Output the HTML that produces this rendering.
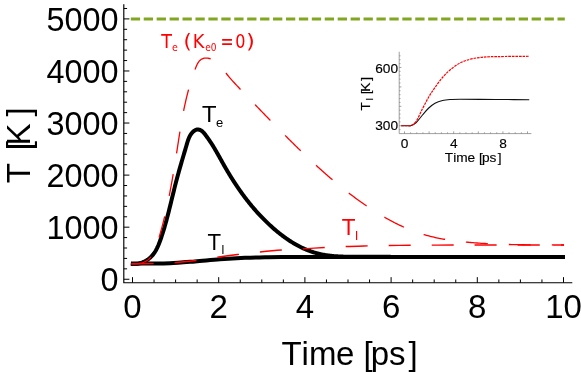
<!DOCTYPE html>
<html><head><meta charset="utf-8"><title>Plot</title>
<style>html,body{margin:0;padding:0;background:#fff}svg{display:block}</style></head>
<body>
<svg width="581" height="372" viewBox="0 0 581 372">
<rect width="581" height="372" fill="#fff"/>
<g stroke="#000" stroke-width="1.15" fill="none">
<path d="M123.80 4.3 V282.75 H572.3"/>
</g><g stroke="#000" stroke-width="1.0" fill="none">
<path d="M123.80 279.25 h5.6"/>
<path d="M123.80 268.84 h3.3"/>
<path d="M123.80 258.42 h3.3"/>
<path d="M123.80 248.01 h3.3"/>
<path d="M123.80 237.59 h3.3"/>
<path d="M123.80 227.18 h5.6"/>
<path d="M123.80 216.77 h3.3"/>
<path d="M123.80 206.35 h3.3"/>
<path d="M123.80 195.94 h3.3"/>
<path d="M123.80 185.52 h3.3"/>
<path d="M123.80 175.11 h5.6"/>
<path d="M123.80 164.70 h3.3"/>
<path d="M123.80 154.28 h3.3"/>
<path d="M123.80 143.87 h3.3"/>
<path d="M123.80 133.45 h3.3"/>
<path d="M123.80 123.04 h5.6"/>
<path d="M123.80 112.63 h3.3"/>
<path d="M123.80 102.21 h3.3"/>
<path d="M123.80 91.80 h3.3"/>
<path d="M123.80 81.38 h3.3"/>
<path d="M123.80 70.97 h5.6"/>
<path d="M123.80 60.56 h3.3"/>
<path d="M123.80 50.14 h3.3"/>
<path d="M123.80 39.73 h3.3"/>
<path d="M123.80 29.31 h3.3"/>
<path d="M123.80 18.90 h5.6"/>
<path d="M123.80 8.49 h3.3"/>
<path d="M132.50 282.75 v-5.6"/>
<path d="M154.05 282.75 v-3.3"/>
<path d="M175.60 282.75 v-3.3"/>
<path d="M197.15 282.75 v-3.3"/>
<path d="M218.70 282.75 v-5.6"/>
<path d="M240.25 282.75 v-3.3"/>
<path d="M261.80 282.75 v-3.3"/>
<path d="M283.35 282.75 v-3.3"/>
<path d="M304.90 282.75 v-5.6"/>
<path d="M326.45 282.75 v-3.3"/>
<path d="M348.00 282.75 v-3.3"/>
<path d="M369.55 282.75 v-3.3"/>
<path d="M391.10 282.75 v-5.6"/>
<path d="M412.65 282.75 v-3.3"/>
<path d="M434.20 282.75 v-3.3"/>
<path d="M455.75 282.75 v-3.3"/>
<path d="M477.30 282.75 v-5.6"/>
<path d="M498.85 282.75 v-3.3"/>
<path d="M520.40 282.75 v-3.3"/>
<path d="M541.95 282.75 v-3.3"/>
<path d="M563.50 282.75 v-5.6"/>
</g>
<path d="M130.8 19 H564.8" stroke="#80a71f" stroke-width="2.8" stroke-dasharray="9.3 3.63" fill="none"/>
<path d="M130.84 263.54 L131.94 263.70 L133.03 263.80 L134.12 263.85 L135.20 263.83 L136.28 263.77 L137.34 263.65 L138.40 263.49 L139.44 263.27 L140.47 263.01 L141.48 262.70 L142.47 262.34 L143.45 261.95 L144.41 261.51 L145.34 261.03 L146.26 260.51 L147.15 259.95 L148.01 259.36 L148.85 258.74 L149.65 258.08 L150.43 257.39 L151.18 256.67 L151.89 255.93 L152.58 255.15 L153.23 254.36 L153.85 253.53 L154.44 252.69 L155.01 251.82 L155.55 250.94 L156.07 250.03 L156.56 249.11 L157.04 248.18 L157.50 247.23 L157.93 246.26 L158.36 245.29 L158.77 244.30 L159.16 243.31 L159.54 242.31 L159.92 241.30 L160.28 240.29 L160.64 239.28 L160.99 238.26 L161.33 237.25 L161.67 236.23 L162.01 235.21 L162.34 234.19 L162.66 233.17 L162.99 232.15 L163.31 231.13 L163.62 230.11 L163.93 229.09 L164.23 228.07 L164.54 227.05 L164.84 226.02 L165.13 225.00 L165.42 223.97 L165.71 222.95 L166.00 221.93 L166.28 220.90 L166.56 219.87 L166.83 218.85 L167.11 217.82 L167.38 216.80 L167.65 215.77 L167.92 214.74 L168.18 213.72 L168.44 212.69 L168.70 211.66 L168.96 210.64 L169.22 209.61 L169.48 208.58 L169.73 207.56 L169.99 206.53 L170.24 205.50 L170.49 204.48 L170.74 203.45 L170.99 202.43 L171.24 201.40 L171.49 200.37 L171.74 199.35 L171.99 198.32 L172.23 197.30 L172.48 196.28 L172.73 195.25 L172.98 194.23 L173.23 193.21 L173.48 192.19 L173.73 191.17 L173.98 190.15 L174.23 189.13 L174.48 188.11 L174.74 187.09 L174.99 186.07 L175.25 185.05 L175.51 184.04 L175.77 183.02 L176.03 182.01 L176.30 180.99 L176.56 179.98 L176.83 178.97 L177.10 177.96 L177.37 176.95 L177.65 175.94 L177.92 174.93 L178.20 173.92 L178.48 172.91 L178.76 171.91 L179.04 170.90 L179.33 169.89 L179.61 168.88 L179.90 167.87 L180.19 166.87 L180.48 165.86 L180.77 164.85 L181.07 163.84 L181.36 162.83 L181.65 161.81 L181.95 160.80 L182.25 159.79 L182.55 158.77 L182.84 157.76 L183.14 156.74 L183.44 155.72 L183.74 154.70 L184.05 153.68 L184.35 152.65 L184.65 151.63 L184.95 150.60 L185.26 149.57 L185.56 148.54 L185.86 147.50 L186.17 146.47 L186.47 145.43 L186.77 144.38 L187.08 143.34 L187.39 142.30 L187.72 141.27 L188.06 140.24 L188.43 139.23 L188.82 138.24 L189.24 137.26 L189.71 136.31 L190.21 135.39 L190.76 134.50 L191.36 133.64 L192.02 132.82 L192.75 132.05 L193.53 131.32 L194.38 130.67 L195.28 130.12 L196.22 129.72 L197.19 129.50 L198.18 129.49 L199.17 129.67 L200.15 130.01 L201.08 130.50 L201.97 131.11 L202.79 131.82 L203.57 132.60 L204.31 133.44 L205.01 134.32 L205.68 135.21 L206.34 136.10 L206.98 136.98 L207.60 137.85 L208.21 138.71 L208.81 139.57 L209.40 140.43 L209.99 141.29 L210.56 142.15 L211.13 143.02 L211.69 143.89 L212.25 144.77 L212.80 145.66 L213.35 146.55 L213.89 147.44 L214.43 148.34 L214.97 149.25 L215.50 150.15 L216.03 151.07 L216.56 151.98 L217.08 152.90 L217.61 153.82 L218.13 154.75 L218.65 155.67 L219.17 156.60 L219.69 157.53 L220.21 158.46 L220.73 159.39 L221.24 160.32 L221.76 161.25 L222.28 162.18 L222.80 163.11 L223.33 164.04 L223.85 164.97 L224.38 165.89 L224.90 166.82 L225.43 167.74 L225.97 168.66 L226.50 169.58 L227.04 170.49 L227.58 171.41 L228.12 172.32 L228.67 173.23 L229.22 174.14 L229.77 175.04 L230.32 175.94 L230.88 176.84 L231.44 177.74 L232.00 178.64 L232.56 179.53 L233.13 180.42 L233.70 181.31 L234.27 182.20 L234.85 183.08 L235.43 183.96 L236.01 184.84 L236.60 185.72 L237.19 186.59 L237.78 187.46 L238.38 188.33 L238.97 189.19 L239.58 190.06 L240.18 190.92 L240.79 191.78 L241.40 192.63 L242.02 193.48 L242.64 194.33 L243.26 195.18 L243.88 196.02 L244.51 196.86 L245.15 197.70 L245.78 198.54 L246.42 199.37 L247.07 200.20 L247.72 201.03 L248.37 201.85 L249.02 202.67 L249.68 203.49 L250.34 204.31 L251.01 205.12 L251.68 205.93 L252.36 206.73 L253.04 207.54 L253.72 208.34 L254.41 209.13 L255.10 209.93 L255.79 210.72 L256.49 211.51 L257.19 212.29 L257.90 213.07 L258.61 213.85 L259.33 214.62 L260.05 215.39 L260.78 216.16 L261.51 216.93 L262.24 217.69 L262.98 218.44 L263.72 219.20 L264.47 219.95 L265.22 220.70 L265.98 221.44 L266.74 222.18 L267.51 222.92 L268.28 223.65 L269.05 224.38 L269.84 225.11 L270.62 225.83 L271.41 226.55 L272.21 227.26 L273.01 227.97 L273.81 228.68 L274.62 229.38 L275.43 230.07 L276.25 230.76 L277.07 231.45 L277.90 232.13 L278.73 232.80 L279.57 233.47 L280.41 234.13 L281.26 234.78 L282.11 235.43 L282.96 236.07 L283.82 236.71 L284.69 237.34 L285.55 237.96 L286.43 238.57 L287.30 239.18 L288.19 239.78 L289.07 240.37 L289.96 240.95 L290.86 241.53 L291.76 242.09 L292.66 242.65 L293.57 243.20 L294.48 243.74 L295.40 244.27 L296.32 244.79 L297.24 245.30 L298.17 245.80 L299.10 246.29 L300.04 246.77 L300.98 247.24 L301.93 247.70 L302.88 248.15 L303.83 248.59 L304.79 249.02 L305.76 249.44 L306.72 249.84 L307.69 250.24 L308.67 250.62 L309.65 250.99 L310.63 251.35 L311.62 251.69 L312.61 252.02 L313.60 252.34 L314.60 252.65 L315.60 252.94 L316.61 253.22 L317.62 253.49 L318.63 253.74 L319.65 253.98 L320.67 254.21 L321.70 254.42 L322.73 254.63 L323.76 254.82 L324.79 254.99 L325.83 255.16 L326.87 255.32 L327.92 255.46 L328.96 255.60 L330.01 255.72 L331.06 255.84 L332.11 255.95 L333.17 256.04 L334.22 256.13 L335.28 256.22 L336.34 256.29 L337.40 256.36 L338.46 256.42 L339.53 256.48 L340.59 256.52 L341.66 256.57 L342.72 256.61 L343.79 256.64 L344.85 256.67 L345.92 256.69 L346.99 256.72 L348.05 256.73 L349.12 256.75 L350.19 256.76 L351.25 256.77 L352.32 256.78 L353.38 256.79 L354.45 256.79 L355.51 256.80 L356.57 256.81 L357.63 256.81 L358.69 256.81 L359.75 256.82 L360.81 256.82 L361.86 256.83 L362.92 256.83 L363.97 256.83 L365.03 256.84 L366.08 256.84 L367.14 256.84 L368.19 256.84 L369.24 256.84 L370.30 256.85 L371.35 256.85 L372.40 256.85 L373.45 256.85 L374.50 256.85 L375.56 256.85 L376.61 256.85 L377.66 256.86 L378.71 256.86 L379.77 256.86 L380.82 256.86 L381.87 256.86 L382.93 256.86 L383.98 256.86 L385.03 256.86 L386.09 256.87 L387.15 256.87 L388.20 256.87 L389.26 256.87 L390.32 256.87 L391.38 256.88 L392.44 256.88 L393.50 256.88 L394.56 256.88 L395.62 256.89 L396.69 256.89 L397.75 256.89 L398.82 256.90 L399.89 256.90 L400.96 256.90 L402.03 256.90 L564.9 256.9" stroke="#000" stroke-width="4.0" fill="none" stroke-linejoin="round"/>
<path d="M130.90 263.70 C134.08 263.68 143.48 263.63 150.00 263.55 C156.52 263.47 162.50 263.56 170.00 263.20 C177.50 262.84 186.67 262.05 195.00 261.40 C203.33 260.75 211.67 259.90 220.00 259.30 C228.33 258.70 237.50 258.16 245.00 257.80 C252.50 257.44 258.33 257.29 265.00 257.15 C271.67 257.01 279.17 256.99 285.00 256.95 C290.83 256.91 294.17 256.91 300.00 256.90 C305.83 256.89 316.67 256.90 320.00 256.90 L564.9 256.9" stroke="#000" stroke-width="4.0" fill="none" stroke-linejoin="round"/>
<path d="M131.08 263.85 L132.38 263.93 L133.71 263.96 L135.05 263.93 L136.39 263.85 L137.73 263.72 L139.06 263.52 L140.37 263.25 L141.67 262.92 L142.93 262.53 L144.15 262.05 L145.33 261.51 L146.45 260.88 L147.52 260.18 L148.52 259.39 L149.45 258.52 L150.32 257.58 L151.12 256.56 L151.87 255.49 L152.57 254.37 L153.22 253.20 L153.82 252.00 L154.39 250.77 L154.93 249.52 L155.43 248.26 L155.91 247.00 L156.37 245.74 L156.82 244.48 L157.24 243.23 L157.66 241.98 L158.06 240.72 L158.44 239.48 L158.83 238.23 L159.20 236.97 L159.57 235.72 L159.93 234.47 L160.30 233.21 L160.65 231.95 L161.00 230.69 L161.35 229.43 L161.70 228.17 L162.04 226.90 L162.37 225.63 L162.71 224.37 L163.03 223.10 L163.36 221.83 L163.68 220.55 L164.00 219.28 L164.31 218.00 L164.62 216.73 L164.93 215.45 L165.23 214.17 L165.53 212.89 L165.83 211.60 L166.12 210.32 L166.41 209.04 L166.70 207.75 L166.98 206.46 L167.26 205.18 L167.54 203.89 L167.81 202.60 L168.08 201.31 L168.35 200.01 L168.62 198.72 L168.88 197.43 L169.14 196.13 L169.40 194.84 L169.66 193.54 L169.91 192.25 L170.16 190.95 L170.41 189.65 L170.65 188.35 L170.89 187.05 L171.14 185.75 L171.37 184.45 L171.61 183.15 L171.85 181.85 L172.08 180.55 L172.31 179.25 L172.54 177.95 L172.76 176.65 L172.99 175.34 L173.21 174.04 L173.43 172.74 L173.65 171.44 L173.87 170.13 L174.09 168.83 L174.30 167.53 L174.51 166.23 L174.73 164.92 L174.94 163.62 L175.15 162.32 L175.35 161.01 L175.56 159.71 L175.77 158.41 L175.97 157.11 L176.18 155.81 L176.38 154.51 L176.58 153.21 L176.78 151.91 L176.98 150.61 L177.18 149.31 L177.38 148.01 L177.58 146.71 L177.78 145.41 L177.98 144.11 L178.18 142.81 L178.38 141.52 L178.58 140.22 L178.78 138.93 L178.98 137.63 L179.18 136.33 L179.38 135.04 L179.59 133.75 L179.80 132.45 L180.00 131.16 L180.21 129.87 L180.43 128.57 L180.64 127.28 L180.86 125.99 L181.07 124.70 L181.30 123.41 L181.52 122.12 L181.75 120.83 L181.98 119.54 L182.21 118.25 L182.45 116.96 L182.69 115.67 L182.93 114.38 L183.18 113.09 L183.43 111.81 L183.68 110.52 L183.94 109.23 L184.21 107.95 L184.48 106.66 L184.75 105.38 L185.03 104.09 L185.32 102.81 L185.61 101.52 L185.90 100.24 L186.20 98.96 L186.51 97.67 L186.82 96.39 L187.14 95.11 L187.46 93.83 L187.79 92.55 L188.13 91.27 L188.47 89.99 L188.83 88.71 L189.18 87.43 L189.55 86.15 L189.92 84.87 L190.30 83.59 L190.69 82.31 L191.09 81.03 L191.49 79.76 L191.90 78.48 L192.32 77.20 L192.75 75.93 L193.19 74.65 L193.63 73.38 L194.09 72.10 L194.55 70.83 L195.03 69.55 L195.51 68.28 L196.00 67.01 L196.53 65.77 L197.08 64.56 L197.68 63.41 L198.34 62.33 L199.07 61.34 L199.87 60.44 L200.77 59.67 L201.76 59.03 L202.86 58.55 L204.05 58.22 L205.29 58.05 L206.58 58.06 L207.89 58.21 L209.19 58.50 L210.48 58.91 L211.73 59.41 L212.92 59.99 L214.06 60.65 L215.16 61.38 L216.21 62.17 L217.22 63.01 L218.19 63.90 L219.14 64.84 L220.06 65.81 L220.95 66.82 L221.82 67.85 L222.68 68.90 L223.53 69.97 L224.37 71.04 L225.20 72.11 L226.04 73.18 L226.88 74.24 L227.73 75.28 L228.58 76.31 L229.44 77.33 L230.30 78.34 L231.17 79.34 L232.04 80.33 L232.92 81.31 L233.80 82.28 L234.68 83.25 L235.57 84.21 L236.46 85.17 L237.35 86.12 L238.25 87.07 L239.15 88.02 L240.04 88.96 L240.94 89.90 L241.84 90.85 L242.74 91.79 L243.65 92.73 L244.55 93.68 L245.45 94.62 L246.35 95.57 L247.26 96.51 L248.16 97.46 L249.07 98.40 L249.98 99.35 L250.88 100.29 L251.79 101.24 L252.70 102.18 L253.61 103.13 L254.52 104.08 L255.43 105.02 L256.34 105.97 L257.25 106.91 L258.16 107.86 L259.07 108.81 L259.99 109.75 L260.90 110.70 L261.82 111.64 L262.73 112.59 L263.65 113.54 L264.57 114.48 L265.48 115.43 L266.40 116.37 L267.32 117.32 L268.24 118.26 L269.16 119.20 L270.08 120.15 L271.00 121.09 L271.92 122.03 L272.85 122.98 L273.77 123.92 L274.69 124.86 L275.62 125.80 L276.54 126.74 L277.47 127.68 L278.40 128.62 L279.32 129.56 L280.25 130.50 L281.18 131.44 L282.11 132.38 L283.04 133.31 L283.97 134.25 L284.90 135.18 L285.83 136.12 L286.77 137.05 L287.70 137.98 L288.63 138.92 L289.57 139.85 L290.50 140.78 L291.44 141.71 L292.38 142.64 L293.31 143.56 L294.25 144.49 L295.19 145.42 L296.13 146.34 L297.08 147.26 L298.02 148.18 L298.96 149.10 L299.91 150.02 L300.86 150.94 L301.80 151.86 L302.75 152.77 L303.70 153.69 L304.65 154.60 L305.61 155.51 L306.56 156.42 L307.51 157.32 L308.47 158.23 L309.43 159.13 L310.39 160.03 L311.35 160.93 L312.31 161.83 L313.28 162.73 L314.24 163.62 L315.21 164.52 L316.18 165.41 L317.15 166.30 L318.12 167.18 L319.10 168.07 L320.07 168.95 L321.05 169.83 L322.03 170.71 L323.01 171.58 L323.99 172.46 L324.98 173.33 L325.97 174.19 L326.96 175.06 L327.95 175.92 L328.94 176.79 L329.94 177.64 L330.93 178.50 L331.93 179.35 L332.94 180.20 L333.94 181.05 L334.95 181.90 L335.96 182.74 L336.97 183.58 L337.98 184.42 L339.00 185.25 L340.01 186.08 L341.04 186.91 L342.06 187.73 L343.08 188.56 L344.11 189.38 L345.14 190.19 L346.18 191.00 L347.21 191.81 L348.25 192.62 L349.29 193.42 L350.34 194.22 L351.38 195.02 L352.43 195.81 L353.49 196.60 L354.54 197.38 L355.60 198.17 L356.66 198.94 L357.73 199.72 L358.79 200.49 L359.87 201.26 L360.94 202.02 L362.02 202.78 L363.09 203.54 L364.18 204.29 L365.26 205.04 L366.35 205.78 L367.45 206.52 L368.54 207.26 L369.64 207.99 L370.74 208.72 L371.85 209.45 L372.96 210.16 L374.07 210.88 L375.18 211.59 L376.30 212.29 L377.43 212.99 L378.55 213.68 L379.68 214.37 L380.81 215.05 L381.95 215.73 L383.09 216.40 L384.23 217.07 L385.37 217.72 L386.52 218.38 L387.68 219.02 L388.83 219.66 L389.99 220.29 L391.15 220.92 L392.32 221.53 L393.49 222.14 L394.66 222.74 L395.84 223.34 L397.02 223.93 L398.20 224.51 L399.39 225.08 L400.58 225.64 L401.77 226.19 L402.97 226.74 L404.17 227.28 L405.37 227.81 L406.58 228.33 L407.79 228.84 L409.01 229.34 L410.22 229.83 L411.45 230.31 L412.67 230.78 L413.90 231.25 L415.13 231.70 L416.37 232.14 L417.61 232.57 L418.85 233.00 L420.09 233.41 L421.34 233.81 L422.60 234.20 L423.85 234.58 L425.12 234.94 L426.38 235.30 L427.65 235.64 L428.92 235.98 L430.19 236.30 L431.47 236.62 L432.75 236.92 L434.03 237.22 L435.31 237.51 L436.60 237.78 L437.89 238.05 L439.18 238.31 L440.48 238.56 L441.77 238.80 L443.07 239.04 L444.37 239.26 L445.67 239.48 L446.98 239.69 L448.28 239.90 L449.59 240.09 L450.90 240.28 L452.21 240.47 L453.52 240.65 L454.83 240.82 L456.14 240.98 L457.45 241.14 L458.77 241.30 L460.08 241.45 L461.39 241.59 L462.71 241.73 L464.02 241.87 L465.34 242.00 L466.65 242.12 L467.97 242.25 L469.28 242.37 L470.59 242.48 L471.91 242.59 L473.22 242.70 L474.54 242.81 L475.85 242.91 L477.16 243.00 L478.48 243.10 L479.79 243.19 L481.10 243.28 L482.42 243.36 L483.73 243.44 L485.04 243.52 L486.36 243.60 L487.67 243.67 L488.98 243.74 L490.30 243.80 L491.61 243.87 L492.92 243.93 L494.23 243.99 L495.55 244.04 L496.86 244.10 L498.17 244.15 L499.49 244.20 L500.80 244.24 L502.12 244.29 L503.43 244.33 L504.74 244.37 L506.06 244.41 L507.37 244.45 L508.69 244.48 L510.00 244.51 L511.31 244.55 L512.63 244.57 L513.94 244.60 L515.26 244.63 L516.58 244.65 L517.89 244.68 L519.21 244.70 L520.52 244.72 L521.84 244.74 L523.16 244.76 L524.47 244.77 L525.79 244.79 L527.11 244.81 L528.42 244.82 L529.74 244.83 L531.06 244.85 L532.38 244.86 L533.70 244.87 L535.02 244.88 L536.34 244.89 L537.65 244.90 L538.97 244.91 L540.29 244.92 L541.61 244.93 L542.93 244.93 L544.25 244.94 L545.57 244.95 L546.89 244.95 L548.21 244.96 L549.53 244.96 L550.84 244.97 L552.16 244.97 L553.48 244.98 L554.80 244.98 L556.11 244.99 L557.43 244.99 L558.74 244.99 L560.06 245.00 L561.37 245.00 L562.68 245.00 L564.00 245.01" stroke="#ff0000" stroke-width="1.3" fill="none" stroke-dasharray="22 21"/>
<path d="M131.60 263.75 C135.33 263.73 146.56 263.81 154.00 263.60 C161.44 263.39 169.21 263.02 176.25 262.50 C183.29 261.98 189.17 261.42 196.25 260.50 C203.33 259.58 211.88 258.00 218.75 257.00 C225.62 256.00 230.62 255.33 237.50 254.50 C244.38 253.67 252.58 252.75 260.00 252.00 C267.42 251.25 274.92 250.53 282.00 250.00 C289.08 249.47 295.42 249.22 302.50 248.80 C309.58 248.38 317.33 247.88 324.50 247.50 C331.67 247.12 338.33 246.77 345.50 246.50 C352.67 246.23 360.38 246.07 367.50 245.90 C374.62 245.73 381.04 245.61 388.25 245.50 C395.46 245.39 403.58 245.32 410.75 245.25 C417.92 245.18 424.08 245.14 431.25 245.10 C438.42 245.06 442.96 245.02 453.75 245.00 C464.54 244.98 477.62 245.00 496.00 245.00 C514.38 245.00 552.67 245.00 564.00 245.00" stroke="#ff0000" stroke-width="1.3" fill="none" stroke-dasharray="22 21"/>
<g font-family='"Liberation Sans", sans-serif' font-size="33" fill="#000">
<text x="118.6" y="291.25" text-anchor="end" font-size="32.4">0</text>
<text x="118.6" y="239.18" text-anchor="end" font-size="32.4">1000</text>
<text x="118.6" y="187.11" text-anchor="end" font-size="32.4">2000</text>
<text x="118.6" y="135.04" text-anchor="end" font-size="32.4">3000</text>
<text x="118.6" y="82.97" text-anchor="end" font-size="32.4">4000</text>
<text x="118.6" y="30.90" text-anchor="end" font-size="32.4">5000</text>
<text x="132.50" y="318.4" text-anchor="middle">0</text>
<text x="218.70" y="318.4" text-anchor="middle">2</text>
<text x="304.90" y="318.4" text-anchor="middle">4</text>
<text x="391.10" y="318.4" text-anchor="middle">6</text>
<text x="477.30" y="318.4" text-anchor="middle">8</text>
<text x="563.50" y="318.4" text-anchor="middle">10</text>
<text x="281.5 301.6 309 336.1 354 363.6 370.8 389 408.6" y="365.2">Time [ps]</text>
<text transform="translate(30.2 183.2) rotate(-90)" x="0" y="0">T</text>
<text transform="translate(30.2 150.2) rotate(-90)" x="0 4.8 33.6" y="0">[K]</text>
</g>
<g fill="#000">
<text x="202.5" y="121.8" font-size="22" font-family='"DejaVu Sans", "Liberation Sans", sans-serif'>T</text><text x="216" y="126.9" font-size="13" font-family='"Liberation Sans", sans-serif'>e</text>
<text x="208" y="249.9" font-size="20.5" font-family='"DejaVu Sans", "Liberation Sans", sans-serif'>T</text><text x="221.6" y="253.8" font-size="12.5" font-family='"Liberation Sans", sans-serif'>l</text>
</g>
<text transform="translate(342.31 234.80) scale(0.943 1.000)" font-family='"DejaVu Sans", "Liberation Sans", sans-serif' font-size="22" fill="#ff0000">T</text>
<text transform="translate(354.79 239.60) scale(1.113 1.000)" font-family='"DejaVu Sans", "Liberation Sans", sans-serif' font-size="12" fill="#ff0000">l</text>
<text transform="translate(161.20 47.90) scale(0.922 1.000)" font-family='"DejaVu Sans", "Liberation Sans", sans-serif' font-size="19" fill="#ff0000">T</text>
<text transform="translate(172.03 51.00) scale(0.861 1.000)" font-family='"DejaVu Sans", "Liberation Sans", sans-serif' font-size="11" fill="#ff0000">e</text>
<text transform="translate(183.55 48.20) scale(1.059 1.000)" font-family='"DejaVu Sans", "Liberation Sans", sans-serif' font-size="19.8" fill="#ff0000">(</text>
<text transform="translate(192.70 47.90) scale(0.937 1.000)" font-family='"DejaVu Sans", "Liberation Sans", sans-serif' font-size="19" fill="#ff0000">K</text>
<text transform="translate(205.15 51.00) scale(0.821 1.000)" font-family='"DejaVu Sans", "Liberation Sans", sans-serif' font-size="11" fill="#ff0000">e0</text>
<text transform="translate(220.59 48.50) scale(0.824 1.150)" font-family='"DejaVu Sans", "Liberation Sans", sans-serif' font-size="19" fill="#ff0000">=</text>
<text transform="translate(235.19 47.90) scale(0.846 1.000)" font-family='"DejaVu Sans", "Liberation Sans", sans-serif' font-size="19" fill="#ff0000">0</text>
<text transform="translate(246.30 48.20) scale(1.104 1.000)" font-family='"DejaVu Sans", "Liberation Sans", sans-serif' font-size="19.8" fill="#ff0000">)</text>
<g stroke="#808080" stroke-width="0.75" fill="none">
<path d="M399.20 51.75 V133.60 H531.4"/>
<path d="M404.50 133.60 v-2.2"/>
<path d="M410.65 133.60 v-1.3"/>
<path d="M416.80 133.60 v-1.3"/>
<path d="M422.95 133.60 v-1.3"/>
<path d="M429.10 133.60 v-2.2"/>
<path d="M435.25 133.60 v-1.3"/>
<path d="M441.40 133.60 v-1.3"/>
<path d="M447.55 133.60 v-1.3"/>
<path d="M453.70 133.60 v-2.2"/>
<path d="M459.85 133.60 v-1.3"/>
<path d="M466.00 133.60 v-1.3"/>
<path d="M472.15 133.60 v-1.3"/>
<path d="M478.30 133.60 v-2.2"/>
<path d="M484.45 133.60 v-1.3"/>
<path d="M490.60 133.60 v-1.3"/>
<path d="M496.75 133.60 v-1.3"/>
<path d="M502.90 133.60 v-2.2"/>
<path d="M509.05 133.60 v-1.3"/>
<path d="M515.20 133.60 v-1.3"/>
<path d="M521.35 133.60 v-1.3"/>
<path d="M527.50 133.60 v-2.2"/>
<path d="M399.20 129.63 h1.3"/>
<path d="M399.20 125.75 h2.2"/>
<path d="M399.20 121.87 h1.3"/>
<path d="M399.20 117.98 h1.3"/>
<path d="M399.20 114.10 h1.3"/>
<path d="M399.20 110.21 h1.3"/>
<path d="M399.20 106.33 h2.2"/>
<path d="M399.20 102.45 h1.3"/>
<path d="M399.20 98.56 h1.3"/>
<path d="M399.20 94.68 h1.3"/>
<path d="M399.20 90.79 h1.3"/>
<path d="M399.20 86.91 h2.2"/>
<path d="M399.20 83.03 h1.3"/>
<path d="M399.20 79.14 h1.3"/>
<path d="M399.20 75.26 h1.3"/>
<path d="M399.20 71.37 h1.3"/>
<path d="M399.20 67.49 h2.2"/>
<path d="M399.20 63.61 h1.3"/>
<path d="M399.20 59.72 h1.3"/>
<path d="M399.20 55.84 h1.3"/>
</g>
<path d="M401.25 125.75 C402.29 125.75 405.83 125.79 407.50 125.75 C409.17 125.71 409.79 126.04 411.25 125.50 C412.71 124.96 414.38 124.25 416.25 122.50 C418.12 120.75 420.42 117.42 422.50 115.00 C424.58 112.58 426.67 109.96 428.75 108.00 C430.83 106.04 432.71 104.50 435.00 103.25 C437.29 102.00 440.00 101.12 442.50 100.50 C445.00 99.88 447.08 99.71 450.00 99.50 C452.92 99.29 455.00 99.27 460.00 99.25 C465.00 99.23 472.50 99.33 480.00 99.38 C487.50 99.42 496.79 99.44 505.00 99.50 C513.21 99.56 525.21 99.71 529.25 99.75" stroke="#111" stroke-width="1.1" fill="none"/>
<path d="M401.25 125.75 C402.29 125.75 405.83 125.79 407.50 125.75 C409.17 125.71 409.79 126.25 411.25 125.50 C412.71 124.75 414.38 124.04 416.25 121.25 C418.12 118.46 420.42 112.79 422.50 108.75 C424.58 104.71 426.67 100.54 428.75 97.00 C430.83 93.46 432.71 90.75 435.00 87.50 C437.29 84.25 440.00 80.42 442.50 77.50 C445.00 74.58 447.08 72.42 450.00 70.00 C452.92 67.58 456.67 64.79 460.00 63.00 C463.33 61.21 466.67 60.17 470.00 59.25 C473.33 58.33 476.67 57.92 480.00 57.50 C483.33 57.08 485.83 56.92 490.00 56.75 C494.17 56.58 498.46 56.58 505.00 56.50 C511.54 56.42 525.21 56.29 529.25 56.25" stroke="#ff0000" stroke-width="1.2" fill="none" stroke-dasharray="2.6 0.9"/>
<g font-family='"Liberation Sans", sans-serif' font-size="13.7" fill="#000" stroke="#000" stroke-width="0.15">
<text x="398" y="72.6" text-anchor="end">600</text>
<text x="398" y="130.3" text-anchor="end">300</text>
<text x="404.60" y="147.9" text-anchor="middle">0</text>
<text x="453.80" y="147.9" text-anchor="middle">4</text>
<text x="503.00" y="147.9" text-anchor="middle">8</text>
<text x="444.8 453.2 456.2 467.5 475 479 482 489.5 497.7" y="162.1">Time [ps]</text>
<text transform="translate(370.4 110.6) rotate(-90)">T</text><text transform="translate(372.7 100.3) rotate(-90)" font-size="8.5">l</text><text transform="translate(370.4 94.2) rotate(-90)" x="0 2.4 13.4">[K]</text>
</g>
</svg>
</body></html>
